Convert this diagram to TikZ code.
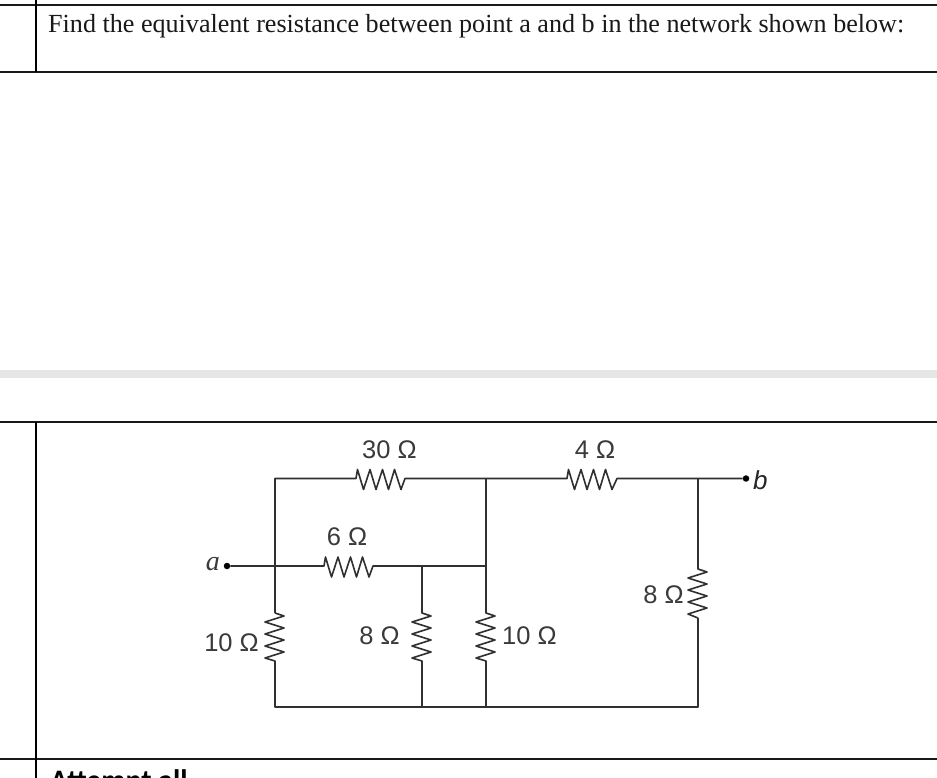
\documentclass[tikz,border=0pt]{standalone}
\usepackage{fontspec}
\setmainfont{Liberation Serif}
\setsansfont{Liberation Sans}
\newfontfamily\boldhead[BoldFont={Carlito Bold}]{Carlito}
\definecolor{wire}{HTML}{303030}
\definecolor{band}{HTML}{E6E6E6}
\definecolor{labelgray}{HTML}{3A3A3A}
\tikzset{
  rule/.style={line width=2.4pt,draw=black!90},
  post/.style={line width=2.8pt,draw=black},
  wiring/.style={line width=1.6pt,draw=wire,line join=round},
  hres/.style={to path={-- ++(1.5,-9) -- ++(6,20) -- ++(6.5,-20) -- ++(6,20) -- ++(6.5,-20) -- ++(6,20) -- ++(6,-20) -- ++(6.5,20) -- (\tikztotarget)}},
  vres/.style={to path={-- ++(9,3) -- ++(-19,6) -- ++(19,6) -- ++(-19,6) -- ++(19,6) -- ++(-19,6) -- ++(19,6) -- ++(-19,6) -- (\tikztotarget)}},
  val/.style={font=\sffamily\fontsize{25.5}{25.5}\selectfont,text=labelgray,inner sep=0pt},
  term/.style={circle,fill=black,inner sep=0pt,minimum size=6.5pt},
  question/.style={font=\fontsize{26.1}{28}\selectfont,anchor=base west,inner sep=0pt,text=black!90}
}
\begin{document}
\begin{tikzpicture}[x=1pt,y=-1pt]
\useasboundingbox (0,0) rectangle (937,778);
\fill[white] (0,0) rectangle (937,778);
% upper table
\coordinate (tl) at (0,5); \coordinate (tr) at (937,5);
\coordinate (ml) at (0,72); \coordinate (mr) at (937,72);
\coordinate (vt) at (36,0); \coordinate (vb) at (36,72);
\draw[rule] (tl) -- (tr);
\draw[rule] (ml) -- (mr);
\draw[post] (vt) -- (vb);
\node[question] (q) at (48,33) {Find the equivalent resistance between point a and b in the network shown below:};
% grey band
\fill[band] (0,370) rectangle (937,378);
% lower table
\coordinate (l1) at (0,422); \coordinate (r1) at (937,422);
\coordinate (l2) at (0,759); \coordinate (r2) at (937,759);
\coordinate (v1) at (36,422); \coordinate (v2) at (36,778);
\draw[rule] (l1) -- (r1);
\draw[rule] (l2) -- (r2);
\draw[post] (v1) -- (v2);
\node[anchor=base west,inner sep=0pt,font=\boldhead\bfseries\fontsize{29.7}{30}\selectfont] (att) at (50,790) {Attempt all};
% circuit junctions
\coordinate (tlc) at (275,478.5);
\coordinate (tj) at (486,478.5);
\coordinate (trj) at (698,478.5);
\coordinate (ar) at (275,566);
\coordinate (mj) at (422,566);
\coordinate (mr2) at (486,566);
\coordinate (bl) at (275,707);
\coordinate (bm) at (422,707);
\coordinate (bj) at (486,707);
\coordinate (brc) at (698,707);
\node[term] (a) at (227,566) {};
\node[term] (b) at (746,478.5) {};
% resistor ends
\coordinate (r30a) at (356,478.5); \coordinate (r30b) at (405,478.5);
\coordinate (r4a) at (567,478.5); \coordinate (r4b) at (617,478.5);
\coordinate (r6a) at (324,566); \coordinate (r6b) at (373,566);
\coordinate (r10a) at (275,613); \coordinate (r10b) at (275,661);
\coordinate (r8a) at (422,613); \coordinate (r8b) at (422,661);
\coordinate (r10ca) at (486,613); \coordinate (r10cb) at (486,661);
\coordinate (r8ra) at (698,569); \coordinate (r8rb) at (698,618);
% wires
\draw[wiring] (r10a) -- (tlc) -- (r30a) to[hres] (r30b) -- (tj) -- (r4a) to[hres] (r4b) -- (trj) -- (b);
\draw[wiring] (a) -- (ar) -- (r6a) to[hres] (r6b) -- (mj) -- (mr2);
\draw[wiring] (tj) -- (mr2) -- (r10ca) to[vres] (r10cb) -- (bj);
\draw[wiring] (mj) -- (r8a) to[vres] (r8b) -- (bm);
\draw[wiring] (r10a) to[vres] (r10b) -- (bl) -- (bm) -- (bj) -- (brc) -- (r8rb);
\draw[wiring] (trj) -- (r8ra) to[vres] (r8rb);
% labels
\node[val] (l30) at (389.5,449.5) {30 Ω};
\node[val] (l4) at (595,449.5) {4 Ω};
\node[val] (l6) at (347,536.5) {6 Ω};
\node[val,anchor=east] (l10) at (259,642.5) {10 Ω};
\node[val,anchor=east] (l8) at (400,636) {8 Ω};
\node[val,anchor=west] (l10c) at (502,636) {10 Ω};
\node[val,anchor=east] (l8r) at (684,595) {8 Ω};
\node[font=\fontsize{28}{28}\selectfont\itshape,text=labelgray,inner sep=0pt,anchor=east] (la) at (220,564) {a};
\node[font=\sffamily\fontsize{26}{26}\selectfont\itshape,text=black!85,inner sep=0pt,anchor=west] (lb) at (753,480) {b};
\end{tikzpicture}
\end{document}
